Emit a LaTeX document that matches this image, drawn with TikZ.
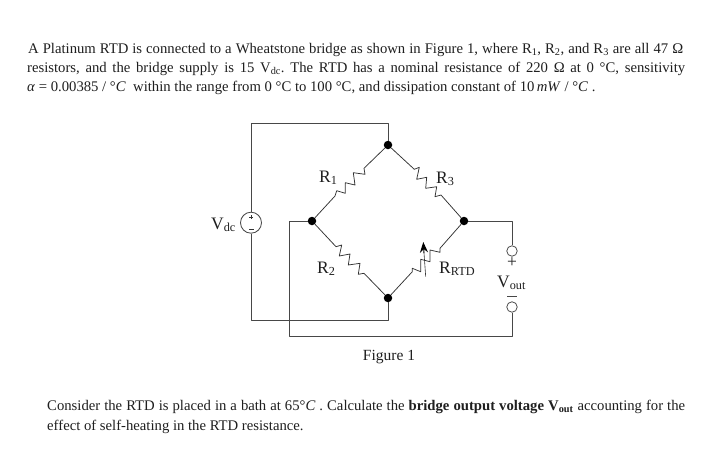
\documentclass[tikz,border=0pt]{standalone}
\usepackage{fontspec}
\setmainfont{Liberation Serif}
\usetikzlibrary{arrows.meta}
\newcommand{\sbs}[1]{\textsubscript{#1}}
\frenchspacing
\begin{document}
\begin{tikzpicture}[x=1pt, y=-1pt, line join=round, >=stealth,
 wire/.style={draw=black!72, line width=0.85pt},
 res/.style={draw=black!80, line width=0.75pt},
 dot/.style={circle, fill=black, inner sep=0pt, minimum size=8.5pt},
 port/.style={circle, draw=black!72, fill=white, line width=0.75pt, inner sep=0pt, minimum size=10.5pt},
 para/.style={anchor=base west, inner sep=0pt, text=black!88, font=\fontsize{14.7}{17}\selectfont},
 lab/.style={anchor=base west, inner sep=0pt, text=black!88, font=\fontsize{17.5}{20}\selectfont}]
 \useasboundingbox (0,0) rectangle (713,451);
 \fill[white] (0,0) rectangle (713,451);
 % problem text
 \node[para] (ln1) at (28,53) {\makebox[655pt][s]{A Platinum RTD is connected to a Wheatstone bridge as shown in Figure 1, where R\sbs{1}, R\sbs{2}, and R\sbs{3} are all 47 Ω}};
 \node[para] (ln2) at (27,72) {\makebox[658pt][s]{resistors, and the bridge supply is 15 V\sbs{dc}. The RTD has a nominal resistance of 220 Ω at 0 °C, sensitivity}};
 \node[para] (ln3) at (27,91) {\textit{α} = 0.00385 / °\textit{C} \ within the range from 0 °C to 100 °C, and dissipation constant of 10\,\textit{mW} / °\textit{C} .};
 \node[para] (ln4) at (47,410) {\makebox[638pt][s]{Consider the RTD is placed in a bath at 65°\textit{C} . Calculate the \textbf{bridge output voltage V\sbs{out}} accounting for the}};
 \node[para] (ln5) at (47,430) {effect of self-heating in the RTD resistance.};
 % bridge
 \node[dot] (nT) at (388,145) {};
 \node[dot] (nL) at (312,221) {};
 \node[dot] (nR) at (464,221) {};
 \node[dot] (nB) at (388,298) {};
 \draw[res] (nL) -- (335,196) -- (336.7,190.7) -- (345.3,193.3) -- (345.3,182.7) -- (355,185) -- (353.3,172.7) -- (365,174.3) -- (364,168.3) -- (nT);
 \draw[res] (nT) -- (414.3,169.3) -- (419.3,167.3) -- (416.7,179.3) -- (426.7,177.3) -- (425.7,188.3) -- (436.7,186.7) -- (435,196.7) -- (441,195) -- (nR);
 \draw[res] (nL) -- (336,246.7) -- (341.7,245) -- (339.3,256) -- (350,254) -- (348.3,265) -- (360,263.3) -- (358.3,274.3) -- (364,273.3) -- (nB);
 \draw[res] (nB) -- (412.3,271.7) -- (412.3,268.3) -- (420.7,271.7) -- (420.7,259.3) -- (430,261.7) -- (430,250) -- (440,252.3) -- (440,248.3) -- (nR);
 % RTD arrow
 \coordinate (aS) at (425.7,276.7);
 \coordinate (aM) at (424,253);
 \coordinate (aE) at (423.3,242);
 \draw[res, line width=0.6pt] (aS) -- (aM);
 \draw[-{Stealth[length=10.5pt,width=8pt]}, black, line width=1pt] (aM) -- (aE);
 % supply
 \node[circle, draw=black!72, fill=white, line width=0.85pt, minimum size=21pt, inner sep=0pt] (vdc) at (251,222.7) {};
 \draw[black!80, line width=0.6pt] (249,217) -- (253,217) (251,215) -- (251,219) (249,229) -- (253.5,229);
 \coordinate (cTop) at (388,123);
 \coordinate (cBot) at (388,320);
 \draw[wire] (vdc) |- (cTop) -- (nT);
 \draw[wire] (vdc) |- (cBot) -- (nB);
 % output
 \node[port] (tP) at (512,251) {};
 \node[port] (tM) at (512,307) {};
 \coordinate (cA) at (289,221);
 \coordinate (cB) at (289,336);
 \coordinate (cC) at (512,336);
 \coordinate (cD) at (512,221);
 \draw[wire] (nL) -- (cA) -- (cB) -- (cC) -- (tM);
 \draw[wire] (nR) -- (cD) -- (tP);
 % labels
 \node[lab] (lR1) at (319,182) {R\sbs{1}};
 \node[lab] (lR3) at (436,183) {R\sbs{3}};
 \node[lab] (lR2) at (317,273) {R\sbs{2}};
 \node[lab] (lRT) at (439,273) {R\sbs{RTD}};
 \node[lab] (lVd) at (211,229) {V\sbs{dc}};
 \node[lab] (lVo) at (497,287) {V\sbs{out}};
 \node[inner sep=0pt, text=black!88, font=\fontsize{17.5}{20}\selectfont] (lPl) at (512,263) {+};
 \node[inner sep=0pt, minimum width=10pt, minimum height=0.8pt, fill=black!72] (lMi) at (512,296) {};
 \node[para, anchor=base, font=\fontsize{15.5}{18}\selectfont] (lFg) at (389,360) {Figure 1};
\end{tikzpicture}
\end{document}
